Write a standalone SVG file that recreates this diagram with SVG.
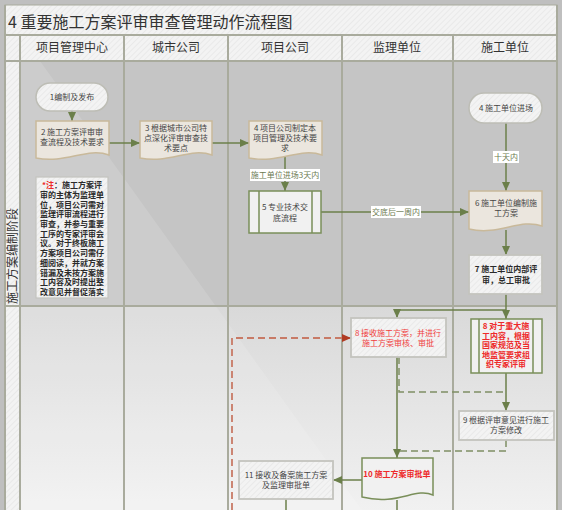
<svg xmlns="http://www.w3.org/2000/svg" width="562" height="510" viewBox="0 0 562 510">
<defs>
<pattern id="hatch" width="4" height="4" patternUnits="userSpaceOnUse" patternTransform="rotate(45)"><rect width="4" height="4" fill="#f3f3f3"/><line x1="0" y1="0" x2="0" y2="4" stroke="#e3e3e3" stroke-width="1.2"/></pattern>
<linearGradient id="lane2" x1="0" y1="0" x2="0" y2="1"><stop offset="0" stop-color="#d9d9d9"/><stop offset="1" stop-color="#f1f1f1"/></linearGradient>
<marker id="ah" markerUnits="userSpaceOnUse" markerWidth="9" markerHeight="8" refX="9" refY="4" orient="auto"><path d="M0,0 L9,4 L0,8 z" fill="#6b7f4a"/></marker>
<marker id="ahr" markerUnits="userSpaceOnUse" markerWidth="9" markerHeight="8" refX="9" refY="4" orient="auto"><path d="M0,0 L9,4 L0,8 z" fill="#b03a22"/></marker>
<style>
text{font-family:"Noto Sans CJK SC","Liberation Sans",sans-serif;}
.hd{font-size:12px;fill:#333;text-anchor:middle;}
.t{font-size:8px;fill:#444;text-anchor:middle;}
.tb{font-size:8px;fill:#2a2a2a;text-anchor:middle;font-weight:bold;}
.tr{font-size:8px;fill:#f03c3c;text-anchor:middle;}
.trb{font-size:8px;fill:#ee2a2a;text-anchor:middle;font-weight:bold;}
.lb{font-size:8px;fill:#6b7a50;text-anchor:middle;}
.doc{fill:#ebe6de;stroke:#c9b99a;stroke-width:1.5;}
.box{fill:url(#hatch);stroke:#c4c4be;stroke-width:1.8;}
.pill{fill:url(#hatch);stroke:#bdbdb5;stroke-width:1.5;}
.gbox{fill:#f1f1f1;stroke:#7a8f5a;stroke-width:1.5;}
.grid{stroke:#a9ab9d;stroke-width:2;fill:none;}
.c{stroke:#6b7f4a;stroke-width:1.5;fill:none;}
.cm{stroke:#6b7f4a;stroke-width:1.5;fill:none;marker-end:url(#ah);}
.cd{stroke:#7f8f64;stroke-width:1.5;fill:none;stroke-dasharray:7,4;}
.cr{stroke:#c87a66;stroke-width:1.8;fill:none;stroke-dasharray:7,4;marker-end:url(#ahr);}
</style>
</defs>
<rect x="0" y="0" width="562" height="510" fill="#bfbfbf"/>
<g id="frame">
<rect x="5" y="5" width="552" height="30" fill="url(#hatch)" stroke="#a9ab9d" stroke-width="1"/>
<text x="8" y="28" style="font-size:16px;fill:#333;">4 重要施工方案评审审查管理动作流程图</text>
<rect x="5" y="35" width="552" height="26" fill="url(#hatch)"/>
<rect x="20" y="61" width="537" height="245" fill="#c5c5c5"/>
<rect x="20" y="306" width="537" height="204" fill="url(#lane2)"/>
<polygon points="20,61 40,61 362,510 20,510" fill="#ffffff" opacity="0.13"/>
<rect x="5" y="61" width="15" height="449" fill="url(#hatch)"/>
<text transform="translate(17,304) rotate(-90)" style="font-size:12px;fill:#333;">施工方案编制阶段</text>
<path class="grid" d="M20 35 V510 M124 35 V510 M228 35 V510 M342 35 V510 M453 35 V510 M557 5 V510 M5 35 H557 M5 61 H557 M5 306 H557 M5 5 V510"/>
<text class="hd" x="72" y="52">项目管理中心</text>
<text class="hd" x="176" y="52">城市公司</text>
<text class="hd" x="285" y="52">项目公司</text>
<text class="hd" x="397" y="52">监理单位</text>
<text class="hd" x="505" y="52">施工单位</text>
</g>
<g id="connectors">
<path class="cm" d="M72 111 V121"/>
<path class="cm" d="M109 143 H140"/>
<path class="cm" d="M212 143 H249"/>
<path class="cm" d="M285 157 V191"/>
<path class="cm" d="M506 123 V191"/>
<path class="cm" d="M321 212 H469"/>
<path class="cm" d="M506 230 V255"/>
<path class="cm" d="M506 294 V319"/>
<path class="cm" d="M506 310 H397 V318"/>
<path class="cm" d="M506 373 V411"/>
<path class="cm" d="M397 357 V458"/>
<path class="cd" d="M399 357 V392 H506"/>
<path class="cd" d="M506 440 V451 H399"/>
<path class="cm" d="M362 480 H333"/>
<path class="c" d="M286 499 V510"/>
<path class="c" d="M397 500 V510"/>
<path class="cr" d="M232 510 V338 H351"/>
<rect x="250" y="169" width="70" height="12" fill="#ffffff"/>
<text class="lb" x="285" y="178">施工单位进场3天内</text>
<rect x="493" y="151" width="26" height="12" fill="#ffffff"/>
<text class="lb" x="506" y="160">十天内</text>
<rect x="371" y="206" width="50" height="12" fill="#ffffff"/>
<text class="lb" x="396" y="215">交底后一周内</text>
</g>
<g id="n1"><rect class="pill" x="36" y="83" width="72" height="28" rx="14"/><text class="t" x="72" y="100">1编制及发布</text></g>
<g id="n2"><path class="doc" d="M36 121 H109 V155 C87 147 66 164 36 158 Z"/><text class="t" x="72" y="135">2 施工方案评审审</text><text class="t" x="72" y="145">查流程及技术要求</text></g>
<g id="n3"><path class="doc" d="M140 121 H212 V155 C190 147 170 164 140 158 Z"/><text class="t" x="176" y="131">3 根据城市公司特</text><text class="t" x="176" y="141">点深化评审审查技</text><text class="t" x="176" y="151">术要点</text></g>
<g id="n4"><path class="doc" d="M249 121 H322 V155 C300 147 279 164 249 158 Z"/><text class="t" x="285" y="131">4 项目公司制定本</text><text class="t" x="285" y="141">项目管理及技术要</text><text class="t" x="285" y="151">求</text></g>
<g id="n4b"><rect class="pill" x="469" y="93" width="73" height="30" rx="15"/><text class="t" x="506" y="111">4 施工单位进场</text></g>
<g id="note"><rect class="box" x="36" y="177" width="72" height="121" style="stroke-width:1.2"/>
<text class="tb" x="72" y="188"><tspan fill="#ee2a2a">*注</tspan>：施工方案评</text>
<text class="tb" x="72" y="197.7">审的主体为监理单</text>
<text class="tb" x="72" y="207.5">位，项目公司需对</text>
<text class="tb" x="72" y="217.2">监理评审流程进行</text>
<text class="tb" x="72" y="226.9">审查，并参与重要</text>
<text class="tb" x="72" y="236.7">工序的专家评审会</text>
<text class="tb" x="72" y="246.4">议。对于终板施工</text>
<text class="tb" x="72" y="256.1">方案项目公司需仔</text>
<text class="tb" x="72" y="265.8">细阅读，并就方案</text>
<text class="tb" x="72" y="275.6">错漏及未按方案施</text>
<text class="tb" x="72" y="285.3">工内容及时提出整</text>
<text class="tb" x="72" y="295">改意见并督促落实</text>
</g>
<g id="n5"><rect class="gbox" x="249" y="191" width="72" height="42"/><path class="c" d="M259 191 V233 M312 191 V233" style="stroke:#7a8f5a"/><text class="t" x="285" y="210">5 专业技术交</text><text class="t" x="285" y="221">底流程</text></g>
<g id="n6"><path class="doc" d="M469 191 H542 V226 C520 218 499 236 469 229 Z"/><text class="t" x="506" y="206">6 施工单位编制施</text><text class="t" x="506" y="216">工方案</text></g>
<g id="n7"><rect class="box" x="469" y="255" width="73" height="39"/><text class="tb" x="506" y="272">7 施工单位内部评</text><text class="tb" x="506" y="283">审，总工审批</text></g>
<g id="n8"><rect class="box" x="351" y="318" width="95" height="39"/><text class="tr" x="398" y="336">8 接收施工方案，并进行</text><text class="tr" x="398" y="346">施工方案审核、审批</text></g>
<g id="n8b"><rect class="gbox" x="471" y="319" width="71" height="54"/><path class="c" d="M479 319 V373 M533 319 V373" style="stroke:#7a8f5a"/>
<text class="trb" x="506" y="329">8 对于重大施</text><text class="trb" x="506" y="338.5">工内容，根据</text><text class="trb" x="506" y="348">国家规范及当</text><text class="trb" x="506" y="357.5">地监管要求组</text><text class="trb" x="506" y="367">织专家评审</text></g>
<g id="n9"><rect class="box" x="459" y="411" width="95" height="29"/><text class="t" x="506" y="423">9 根据评审意见进行施工</text><text class="t" x="506" y="433">方案修改</text></g>
<g id="n10"><path class="gbox" d="M362 458 H433 V495 C415 487 398 506 362 497 Z"/><text class="trb" x="397" y="477">10 施工方案审批单</text></g>
<g id="n11"><rect class="box" x="239" y="461" width="94" height="38"/><text class="t" x="286" y="478">11 接收及备案施工方案</text><text class="t" x="286" y="488">及监理审批单</text></g>
</svg>
